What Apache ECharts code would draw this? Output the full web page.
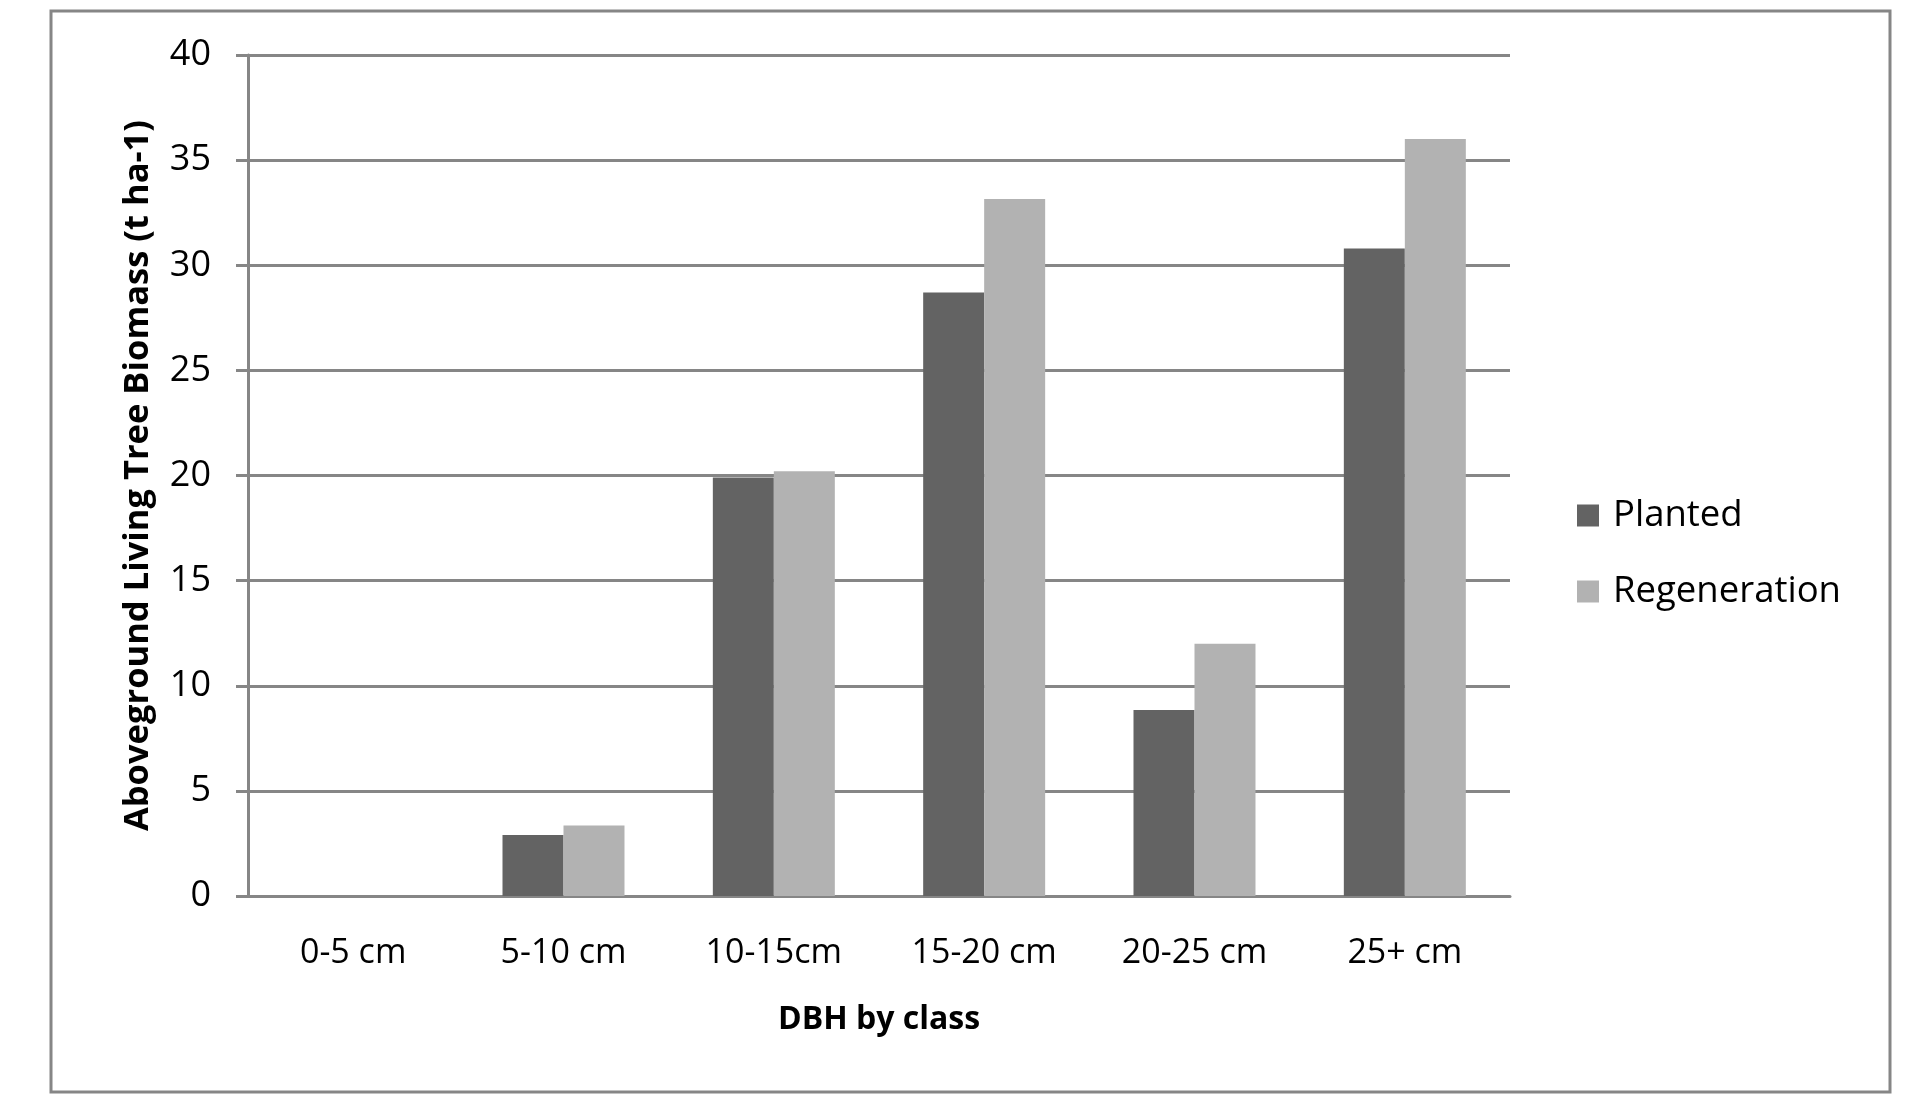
<!DOCTYPE html>
<html>
<head>
<meta charset="utf-8">
<script src="https://cdn.jsdelivr.net/npm/echarts@6/dist/echarts.min.js"></script>
<style>
html,body{margin:0;padding:0;background:#fff;}
#chart{width:1905px;height:1095px;}
</style>
</head>
<body>
<div id="chart"></div>
<script>
const categories = ['0-5 cm', '5-10 cm', '10-15cm', '15-20 cm', '20-25 cm', '25+ cm'];
const planted = [0, 2.9, 19.9, 28.7, 8.85, 30.8];
const regeneration = [0, 3.35, 20.2, 33.15, 12.0, 36.0];
const yTicks = { min: 0, max: 40, interval: 5 };

const FONT = '"Open Sans", "DejaVu Sans", sans-serif';
const GRAY = '#868686';

const chart = echarts.init(document.getElementById('chart'));
chart.setOption({
  backgroundColor: '#ffffff',
  animation: false,
  graphic: [{
    type: 'rect',
    shape: { x: 51, y: 11, width: 1839, height: 1081 },
    style: { fill: 'none', stroke: GRAY, lineWidth: 3 },
    silent: true
  }],
  grid: { left: 248, right: 395, top: 55, bottom: 199 },
  legend: {
    orient: 'vertical',
    left: 1572,
    top: 489,
    itemWidth: 22,
    itemHeight: 22,
    itemGap: 33,
    icon: 'rect',
    textStyle: { fontFamily: FONT, fontSize: 36.5, color: '#000', padding: [0, 0, 0, 9], lineHeight: 43 },
    data: ['Planted', 'Regeneration']
  },
  xAxis: {
    type: 'category',
    data: categories,
    name: 'DBH by class',
    nameLocation: 'middle',
    nameGap: 108,
    nameTextStyle: { fontFamily: FONT, fontSize: 32, fontWeight: 'bold', color: '#000' },
    axisLine: { lineStyle: { color: GRAY, width: 3 } },
    axisTick: { show: false },
    axisLabel: { fontFamily: FONT, fontSize: 34, color: '#000', margin: 40 }
  },
  yAxis: {
    type: 'value',
    min: yTicks.min,
    max: yTicks.max,
    interval: yTicks.interval,
    name: 'Aboveground Living Tree Biomass (t ha-1)',
    nameLocation: 'middle',
    nameGap: 92,
    nameTextStyle: { fontFamily: FONT, fontSize: 34.5, fontWeight: 'bold', color: '#000' },
    axisLine: { show: true, lineStyle: { color: GRAY, width: 3 } },
    axisTick: { show: true, length: 12, lineStyle: { color: GRAY, width: 3 } },
    axisLabel: { fontFamily: FONT, fontSize: 36, color: '#000', margin: 37 },
    splitLine: { lineStyle: { color: GRAY, width: 3 } }
  },
  series: [
    {
      name: 'Planted',
      type: 'bar',
      data: planted,
      barGap: '0%',
      barCategoryGap: '42%',
      itemStyle: { color: '#636363' }
    },
    {
      name: 'Regeneration',
      type: 'bar',
      data: regeneration,
      barGap: '0%',
      barCategoryGap: '42%',
      itemStyle: { color: '#b2b2b2' }
    }
  ]
});
</script>
</body>
</html>
